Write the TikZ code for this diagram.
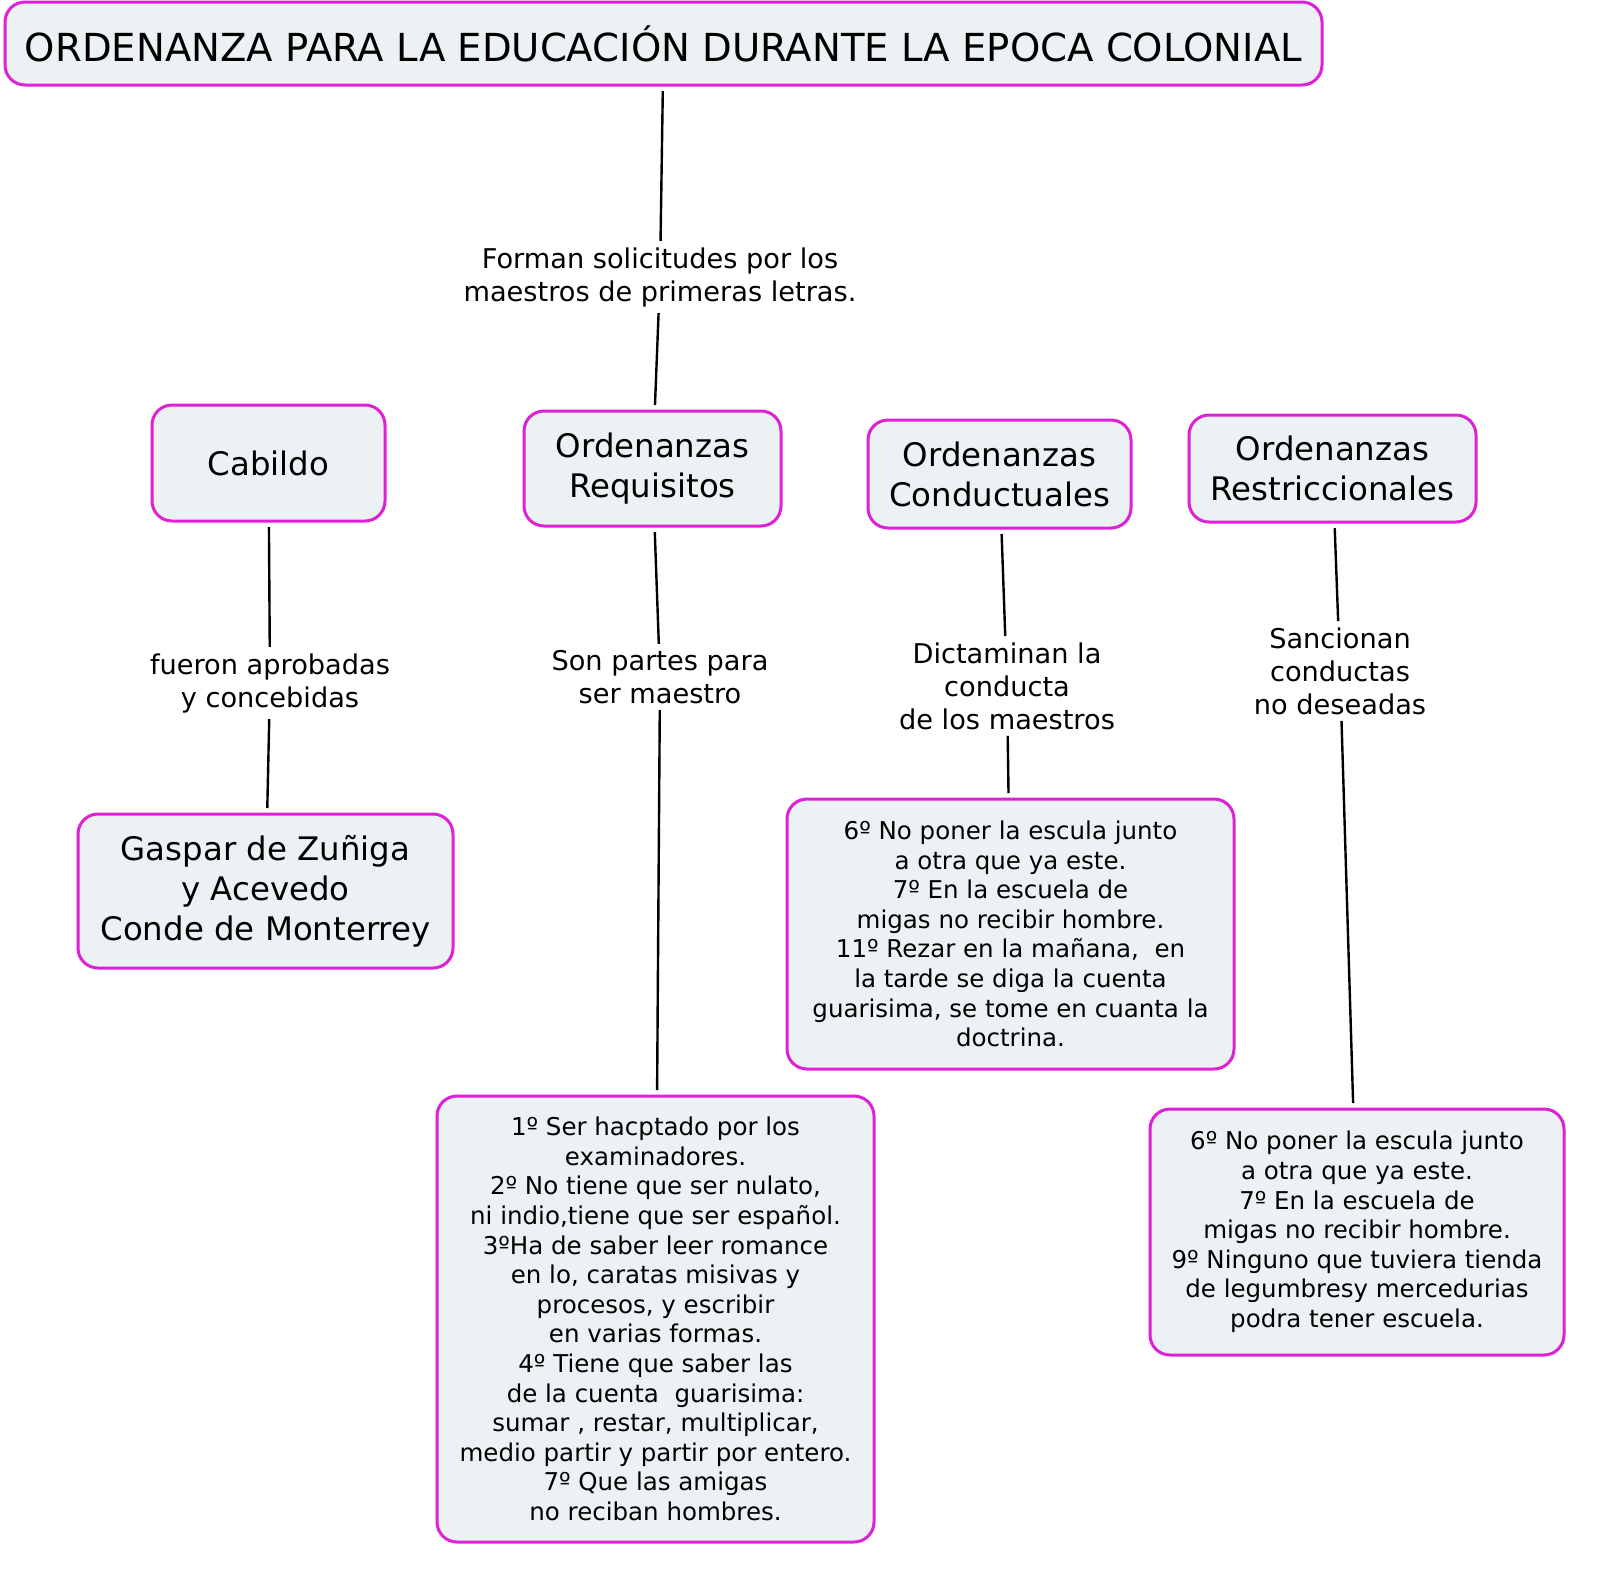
\documentclass[tikz,border=0pt]{standalone}
\usepackage{fontspec}
\setmainfont{DejaVu Sans}
\definecolor{edge}{RGB}{222,32,214}
\definecolor{pale}{RGB}{236,241,243}

\tikzset{
  box/.style={draw=edge, line width=1.5pt, fill=pale, rounded corners=10pt, align=center, outer sep=3pt, font=\fontsize{16.2}{20}\selectfont},
  detail/.style={box, font=\fontsize{12.25}{14.8}\selectfont},
  lbl/.style={align=center, inner sep=3pt, font=\fontsize{13.6}{16.5}\selectfont},
  link/.style={line width=1.2pt, black}
}

\begin{document}
\begin{tikzpicture}[x=0.5pt, y=-0.5pt]
\useasboundingbox (0,0) rectangle (1600,1581);

% title
\node[box, font=\fontsize{19.3}{23}\selectfont, minimum width=658.5pt, minimum height=41.5pt] (title) at (663.5,43.5) {ORDENANZA PARA LA EDUCACIÓN DURANTE LA EPOCA COLONIAL};

% second row
\node[box, minimum width=116.5pt, minimum height=58pt] (cabildo) at (268.5,463) {Cabildo};
\node[box, minimum width=128.5pt, minimum height=57.5pt] (req) at (652.5,468.5) {Ordenanzas\\Requisitos};
\node[box, minimum width=131.5pt, minimum height=54pt] (cond) at (999.5,474) {Ordenanzas\\Conductuales};
\node[box, minimum width=143.5pt, minimum height=53.5pt] (restr) at (1332.5,468.5) {Ordenanzas\\Restriccionales};

% bottom boxes
\node[box, minimum width=187.5pt, minimum height=77pt] (gaspar) at (265.5,891) {Gaspar de Zuñiga\\y Acevedo\\Conde de Monterrey};
\node[detail, minimum width=223.5pt, minimum height=135pt] (conddet) at (1010.5,934) {6º No poner la escula junto\\a otra que ya este.\\7º En la escuela de\\migas no recibir hombre.\\11º Rezar en la mañana,~ en\\la tarde se diga la cuenta\\guarisima, se tome en cuanta la\\doctrina.};
\node[detail, minimum width=207pt, minimum height=123pt] (restrdet) at (1357,1232) {6º No poner la escula junto\\a otra que ya este.\\7º En la escuela de\\migas no recibir hombre.\\9º Ninguno que tuviera tienda\\de legumbresy mercedurias\\podra tener escuela.};
\node[detail, minimum width=218.5pt, minimum height=223pt] (reqdet) at (655.5,1319) {1º Ser hacptado por los\\examinadores.\\2º No tiene que ser nulato,\\ni indio,tiene que ser español.\\3ºHa de saber leer romance\\en lo, caratas misivas y\\procesos, y escribir\\en varias formas.\\4º Tiene que saber las\\de la cuenta~ guarisima:\\sumar , restar, multiplicar,\\medio partir y partir por entero.\\7º Que las amigas\\no reciban hombres.};

% labels
\node[lbl] (forman) at (660,277) {Forman solicitudes por los\\maestros de primeras letras.};
\node[lbl] (fueron) at (270,683) {fueron aprobadas\\y concebidas};
\node[lbl] (son) at (660,677) {Son partes para\\ser maestro};
\node[lbl] (dicta) at (1007,686) {Dictaminan la\\conducta\\de los maestros};
\node[lbl] (sanc) at (1340,671) {Sancionan\\conductas\\no deseadas};

% links
\draw[link] (title) -- (forman);
\draw[link] (forman) -- (req);
\draw[link] (cabildo) -- (fueron);
\draw[link] (fueron) -- (gaspar);
\draw[link] (req) -- (son);
\draw[link] (son) -- (reqdet);
\draw[link] (cond) -- (dicta);
\draw[link] (dicta) -- (conddet);
\draw[link] (restr) -- (sanc);
\draw[link] (sanc) -- (restrdet);
\end{tikzpicture}
\end{document}
